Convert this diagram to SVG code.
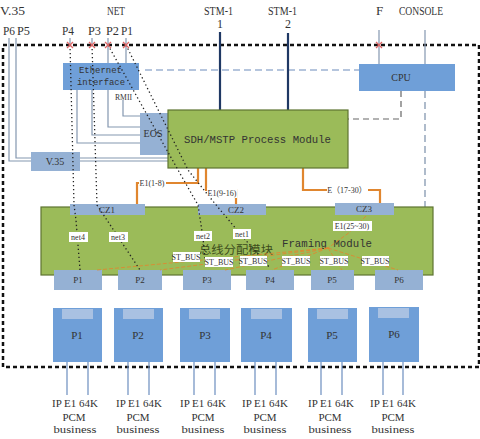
<svg xmlns="http://www.w3.org/2000/svg" width="480" height="439" viewBox="0 0 480 439">
<defs>
<style>
.t{font-family:"Liberation Serif","Noto Sans CJK SC",serif;fill:#333;}
.m{font-family:"Liberation Mono","Noto Sans CJK SC",monospace;fill:#333;}
.gl{fill:none;stroke:#8497B0;stroke-width:1.2;}
.dot{fill:none;stroke:#222;stroke-width:1.3;stroke-dasharray:1.3 2.7;}
.or{fill:none;stroke:#E0862F;stroke-width:2.2;}
.ord{fill:none;stroke:#E0862F;stroke-width:1;stroke-dasharray:4 2;opacity:0.85;}
.lb{fill:#95B1D4;}
.db{fill:#6F9FD8;}
.gr{fill:#9BBB59;stroke:#5E7431;stroke-width:1.2;}
.wb{fill:#fff;}
.xm{stroke:#E06666;stroke-width:1.3;}
</style>
</defs>
<rect width="480" height="439" fill="#fff"/>

<!-- top labels -->
<g id="top-labels">
<text class="t" x="0" y="15" font-size="13" textLength="25" lengthAdjust="spacingAndGlyphs">V.35</text>
<text class="t" x="107" y="15" font-size="13" textLength="18" lengthAdjust="spacingAndGlyphs">NET</text>
<text class="t" x="204" y="15" font-size="13" textLength="29" lengthAdjust="spacingAndGlyphs">STM-1</text>
<text class="t" x="220" y="28" font-size="12" text-anchor="middle">1</text>
<text class="t" x="268" y="15" font-size="13" textLength="29" lengthAdjust="spacingAndGlyphs">STM-1</text>
<text class="t" x="288" y="28" font-size="12" text-anchor="middle">2</text>
<text class="t" x="376" y="15" font-size="13">F</text>
<text class="t" x="399" y="15" font-size="13" textLength="44" lengthAdjust="spacingAndGlyphs">CONSOLE</text>
<text class="t" x="3" y="35" font-size="12" textLength="12" lengthAdjust="spacingAndGlyphs">P6</text>
<text class="t" x="17" y="35" font-size="12" textLength="13" lengthAdjust="spacingAndGlyphs">P5</text>
<text class="t" x="62" y="35" font-size="12" textLength="12" lengthAdjust="spacingAndGlyphs">P4</text>
<text class="t" x="88" y="35" font-size="12" textLength="13" lengthAdjust="spacingAndGlyphs">P3</text>
<text class="t" x="106" y="35" font-size="12" textLength="13" lengthAdjust="spacingAndGlyphs">P2</text>
<text class="t" x="121" y="35" font-size="12" textLength="12" lengthAdjust="spacingAndGlyphs">P1</text>
</g>

<!-- outer dashed boundary -->
<rect id="boundary" x="3" y="45" width="476" height="322" fill="none" stroke="#111" stroke-width="2.5" stroke-dasharray="4 3"/>

<!-- connectors (under nodes) -->
<g id="connectors">
<polyline class="gl" points="9,38 9,161 31,161"/>
<polyline class="gl" points="16,38 16,158 31,158"/>
<line class="gl" x1="80" y1="158" x2="168" y2="158"/>
<line class="gl" x1="80" y1="161" x2="168" y2="161"/>
<line class="gl" x1="108" y1="38" x2="108" y2="63"/>
<line class="gl" x1="126" y1="38" x2="126" y2="63"/>
<line class="gl" x1="70" y1="38" x2="70" y2="45"/>
<line class="gl" x1="92" y1="38" x2="92" y2="45"/>
<polyline class="gl" points="77,90 77,143 140,143"/>
<polyline class="gl" points="92,90 92,135 140,135"/>
<polyline class="gl" points="108,90 108,127 140,127"/>
<polyline class="gl" points="123,100 123,116 140,116"/>
<line class="gl" x1="379" y1="30" x2="379" y2="64"/>
<line class="gl" x1="425" y1="30" x2="425" y2="64"/>
<line x1="145" y1="70" x2="359" y2="70" stroke="#9DB3D2" stroke-width="1.3" stroke-dasharray="7 4"/>
<polyline points="401,91 401,119 348,119" fill="none" stroke="#666" stroke-width="1.2" stroke-dasharray="6 4"/>
<line x1="425" y1="91" x2="425" y2="213" stroke="#8497B0" stroke-width="1.3" stroke-dasharray="7 4"/>
<line x1="220" y1="32" x2="220" y2="110" stroke="#1F3864" stroke-width="2.2"/>
<line x1="288" y1="33" x2="288" y2="110" stroke="#1F3864" stroke-width="2.2"/>
<polyline class="or" points="137,205 137,183 198,183 198,168"/>
<polyline class="or" points="206,168 206,190 236,190 236,204"/>
<polyline class="or" points="303,168 303,190 380,190 380,203"/>
<g stroke="#6C8EBF" stroke-width="1.2">
<line x1="67" y1="362" x2="67" y2="395"/><line x1="88" y1="362" x2="88" y2="395"/>
<line x1="128" y1="362" x2="128" y2="395"/><line x1="149" y1="362" x2="149" y2="395"/>
<line x1="194" y1="362" x2="194" y2="395"/><line x1="215" y1="362" x2="215" y2="395"/>
<line x1="255" y1="362" x2="255" y2="395"/><line x1="276" y1="362" x2="276" y2="395"/>
<line x1="321" y1="362" x2="321" y2="395"/><line x1="342" y1="362" x2="342" y2="395"/>
<line x1="383" y1="362" x2="383" y2="395"/><line x1="403" y1="362" x2="403" y2="395"/>
</g>
</g>

<!-- nodes -->
<g id="ethernet">
<rect class="db" x="63" y="63" width="76" height="27"/>
<text class="m" x="79" y="73" font-size="9.5" textLength="43" lengthAdjust="spacingAndGlyphs">Ethernet</text>
<text class="m" x="77" y="85" font-size="9.5" textLength="48" lengthAdjust="spacingAndGlyphs">interface</text>
</g>
<text id="rmii" class="t" x="115" y="100" font-size="8" textLength="17" lengthAdjust="spacingAndGlyphs">RMII</text>
<g id="cpu">
<rect class="db" x="359" y="64" width="96" height="27"/>
<text class="t" x="401" y="81" font-size="10" text-anchor="middle" fill="#1F3864">CPU</text>
</g>
<g id="eos">
<rect class="lb" x="140" y="113" width="28" height="42"/>
<text class="t" x="153" y="137" font-size="10" text-anchor="middle" fill="#2F4A70">EOS</text>
</g>
<g id="v35">
<rect class="lb" x="31" y="152" width="49" height="19"/>
<text class="t" x="55" y="165" font-size="10" text-anchor="middle" fill="#2F4A70">V.35</text>
</g>
<g id="sdh">
<rect class="gr" x="168" y="110" width="180" height="58"/>
<text class="m" x="184" y="143" font-size="11" textLength="147" lengthAdjust="spacingAndGlyphs" fill="#222">SDH/MSTP Process Module</text>
</g>

<g id="framing">
<rect class="gr" x="41" y="207" width="392" height="68"/>
<text class="m" x="282" y="247" font-size="11" textLength="90" lengthAdjust="spacingAndGlyphs" fill="#222">Framing Module</text>
<text x="199" y="254" font-size="11.5" font-family="Noto Sans CJK SC,sans-serif" fill="#3C4D1C" textLength="74" lengthAdjust="spacingAndGlyphs">总线分配模块</text>
</g>
<g id="cz1"><rect class="lb" x="70" y="204" width="75" height="11"/><text class="t" x="107" y="213" font-size="9" text-anchor="middle" fill="#2F4A70">CZ1</text></g>
<g id="cz2"><rect class="lb" x="198" y="204" width="68" height="11"/><text class="t" x="236" y="213" font-size="9" text-anchor="middle" fill="#2F4A70">CZ2</text></g>
<g id="cz3"><rect class="lb" x="335" y="203" width="59" height="12"/><text class="t" x="364" y="212" font-size="9" text-anchor="middle" fill="#2F4A70">CZ3</text></g>

<g id="framing-ports" font-size="9">
<rect class="lb" x="54" y="270" width="48" height="20"/><text class="t" x="78" y="283" text-anchor="middle" fill="#2F4A70">P1</text>
<rect class="lb" x="118" y="270" width="44" height="20"/><text class="t" x="140" y="283" text-anchor="middle" fill="#2F4A70">P2</text>
<rect class="lb" x="183" y="270" width="48" height="20"/><text class="t" x="207" y="283" text-anchor="middle" fill="#2F4A70">P3</text>
<rect class="lb" x="246" y="270" width="48" height="20"/><text class="t" x="270" y="283" text-anchor="middle" fill="#2F4A70">P4</text>
<rect class="lb" x="311" y="270" width="43" height="20"/><text class="t" x="332" y="283" text-anchor="middle" fill="#2F4A70">P5</text>
<rect class="lb" x="375" y="270" width="48" height="20"/><text class="t" x="399" y="283" text-anchor="middle" fill="#2F4A70">P6</text>
</g>

<g id="net-connectors">
<polyline class="dot" points="70,45 74,205 76,220 80,270"/>
<polyline class="dot" points="92,45 97,205 140,270"/>
<polyline class="dot" points="108,45 178,170 198,205 203,238 206,268"/>
<polyline class="dot" points="126,45 188,170 212,200 242,236 270,268"/>
<polyline class="ord" points="366,216 350,232 328,248"/>
<line class="ord" x1="328" y1="248" x2="97" y2="270"/>
<line class="ord" x1="328" y1="248" x2="160" y2="270"/>
<line class="ord" x1="328" y1="248" x2="225" y2="270"/>
<line class="ord" x1="328" y1="248" x2="272" y2="270"/>
<line class="ord" x1="328" y1="248" x2="342" y2="270"/>
<line class="ord" x1="328" y1="248" x2="398" y2="270"/>
</g>

<g id="labels" font-size="8">
<rect class="wb" x="139" y="178" width="27" height="10"/><text class="t" x="152" y="186" text-anchor="middle">E1(1-8)</text>
<rect class="wb" x="207" y="188" width="30" height="10"/><text class="t" x="222" y="196" text-anchor="middle">E1(9-16)</text>
<rect class="wb" x="327" y="185" width="41" height="10"/><text class="t" x="347" y="193" text-anchor="middle">E（17-30）</text>
<rect class="wb" x="333" y="221" width="39" height="10"/><text class="t" x="352" y="229" text-anchor="middle">E1(25~30)</text>
<rect class="wb" x="69" y="232" width="19" height="10"/><text class="t" x="78" y="240" text-anchor="middle">net4</text>
<rect class="wb" x="109" y="232" width="19" height="10"/><text class="t" x="118" y="240" text-anchor="middle">net3</text>
<rect class="wb" x="194" y="231" width="18" height="10"/><text class="t" x="203" y="239" text-anchor="middle">net2</text>
<rect class="wb" x="233" y="229" width="18" height="10"/><text class="t" x="242" y="237" text-anchor="middle">net1</text>
<rect class="wb" x="173" y="252" width="27" height="10"/><text class="t" x="186" y="260" text-anchor="middle">ST_BUS</text>
<rect class="wb" x="205" y="257" width="28" height="10"/><text class="t" x="219" y="265" text-anchor="middle">ST_BUS</text>
<rect class="wb" x="240" y="256" width="27" height="10"/><text class="t" x="253" y="264" text-anchor="middle">ST_BUS</text>
<rect class="wb" x="282" y="256" width="28" height="10"/><text class="t" x="296" y="264" text-anchor="middle">ST_BUS</text>
<rect class="wb" x="320" y="256" width="28" height="10"/><text class="t" x="334" y="264" text-anchor="middle">ST_BUS</text>
<rect class="wb" x="362" y="256" width="27" height="10"/><text class="t" x="375" y="264" text-anchor="middle">ST_BUS</text>
</g>

<g id="xmarks" class="xm">
<path d="M67,42 L73,48 M73,42 L67,48"/>
<path d="M89,42 L95,48 M95,42 L89,48"/>
<path d="M105,42 L111,48 M111,42 L105,48"/>
<path d="M123,42 L129,48 M129,42 L123,48"/>
<path d="M376,42 L382,48 M382,42 L376,48"/>
</g>

<g id="port-p1"><rect class="db" x="53" y="308" width="49" height="54"/><rect x="62" y="309" width="31" height="10" fill="#A9C1E2"/><text class="t" x="77" y="339" font-size="11" text-anchor="middle" fill="#1F3864">P1</text></g>
<g id="port-p2"><rect class="db" x="114" y="308" width="49" height="54"/><rect x="123" y="309" width="31" height="10" fill="#A9C1E2"/><text class="t" x="138" y="339" font-size="11" text-anchor="middle" fill="#1F3864">P2</text></g>
<g id="port-p3"><rect class="db" x="180" y="308" width="50" height="54"/><rect x="189" y="309" width="31" height="10" fill="#A9C1E2"/><text class="t" x="205" y="339" font-size="11" text-anchor="middle" fill="#1F3864">P3</text></g>
<g id="port-p4"><rect class="db" x="241" y="308" width="51" height="54"/><rect x="251" y="309" width="31" height="10" fill="#A9C1E2"/><text class="t" x="266" y="339" font-size="11" text-anchor="middle" fill="#1F3864">P4</text></g>
<g id="port-p5"><rect class="db" x="308" y="308" width="49" height="54"/><rect x="317" y="309" width="31" height="10" fill="#A9C1E2"/><text class="t" x="332" y="339" font-size="11" text-anchor="middle" fill="#1F3864">P5</text></g>
<g id="port-p6"><rect class="db" x="369" y="307" width="50" height="55"/><rect x="378" y="308" width="31" height="10" fill="#A9C1E2"/><text class="t" x="394" y="338" font-size="11" text-anchor="middle" fill="#1F3864">P6</text></g>

<g id="services" font-size="11">
<text class="t" x="75" y="407" text-anchor="middle" textLength="46" lengthAdjust="spacingAndGlyphs">IP E1 64K</text><text class="t" x="74" y="421" text-anchor="middle">PCM</text><text class="t" x="75" y="433" text-anchor="middle" textLength="43" lengthAdjust="spacingAndGlyphs">business</text>
<text class="t" x="139" y="407" text-anchor="middle" textLength="46" lengthAdjust="spacingAndGlyphs">IP E1 64K</text><text class="t" x="138" y="421" text-anchor="middle">PCM</text><text class="t" x="138" y="433" text-anchor="middle" textLength="43" lengthAdjust="spacingAndGlyphs">business</text>
<text class="t" x="203" y="407" text-anchor="middle" textLength="46" lengthAdjust="spacingAndGlyphs">IP E1 64K</text><text class="t" x="203" y="421" text-anchor="middle">PCM</text><text class="t" x="203" y="433" text-anchor="middle" textLength="43" lengthAdjust="spacingAndGlyphs">business</text>
<text class="t" x="265" y="407" text-anchor="middle" textLength="46" lengthAdjust="spacingAndGlyphs">IP E1 64K</text><text class="t" x="265" y="421" text-anchor="middle">PCM</text><text class="t" x="265" y="433" text-anchor="middle" textLength="43" lengthAdjust="spacingAndGlyphs">business</text>
<text class="t" x="331" y="407" text-anchor="middle" textLength="46" lengthAdjust="spacingAndGlyphs">IP E1 64K</text><text class="t" x="330" y="421" text-anchor="middle">PCM</text><text class="t" x="330" y="433" text-anchor="middle" textLength="43" lengthAdjust="spacingAndGlyphs">business</text>
<text class="t" x="393" y="407" text-anchor="middle" textLength="46" lengthAdjust="spacingAndGlyphs">IP E1 64K</text><text class="t" x="393" y="421" text-anchor="middle">PCM</text><text class="t" x="393" y="433" text-anchor="middle" textLength="43" lengthAdjust="spacingAndGlyphs">business</text>
</g>
</svg>
